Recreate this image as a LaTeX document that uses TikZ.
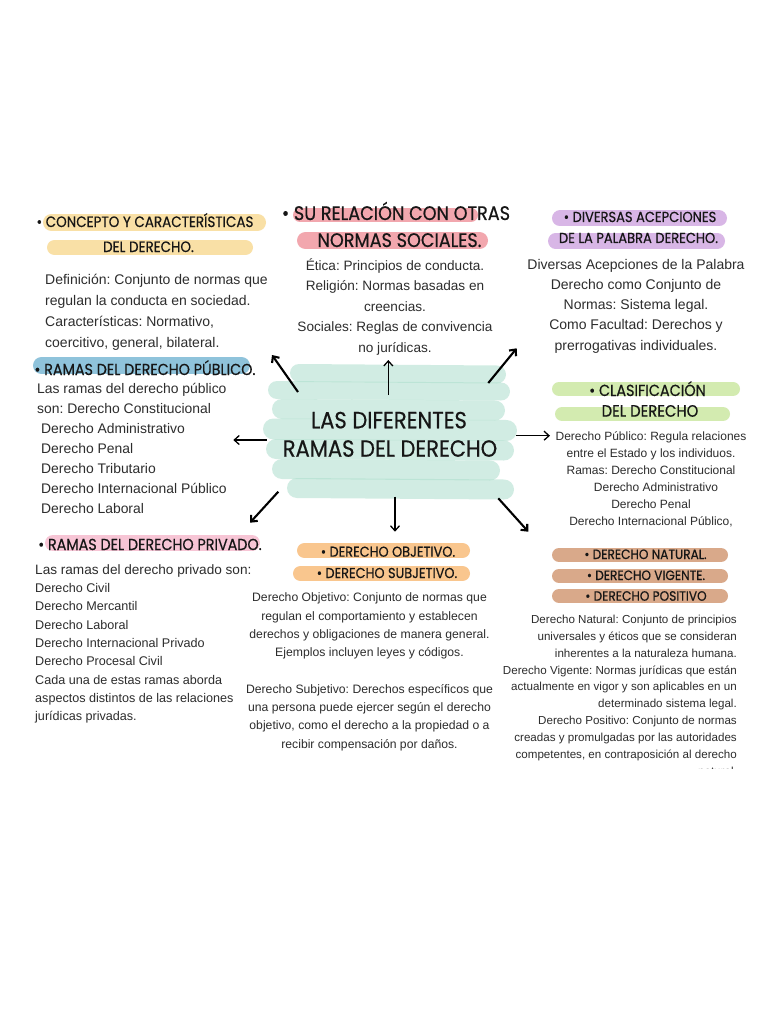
\documentclass[tikz,border=0pt]{standalone}
\usepackage{fontspec}
\setmainfont{Liberation Sans}
\newfontfamily\hfont[FakeStretch=0.9,FakeBold=0.5]{Poppins}
\usetikzlibrary{arrows.meta}
\definecolor{headc}{RGB}{22,22,22}
\definecolor{txt}{RGB}{45,45,45}
\definecolor{mint}{RGB}{172,222,204}
\definecolor{hlyellow}{RGB}{249,224,166}
\definecolor{hlpink}{RGB}{242,167,174}
\definecolor{hlpurple}{RGB}{216,182,230}
\definecolor{hlblue}{RGB}{143,195,219}
\definecolor{hlgreen}{RGB}{211,235,176}
\definecolor{hlrose}{RGB}{247,197,213}
\definecolor{hlorange}{RGB}{249,198,142}
\definecolor{hlbrown}{RGB}{217,169,138}
\newcommand{\hsz}[1]{\hfont\fontsize{#1}{#1}\selectfont}
\newcommand{\bsz}[2]{\fontsize{#1}{#2}\selectfont}
\newcommand{\hlstroke}[5]{\draw[#1, line width=#5pt, line cap=round] (#2+#5/2,#4) -- (#3-#5/2,#4);}
\frenchspacing
\tikzset{
  hd/.style={text=headc, inner sep=0pt, anchor=base},
  body/.style={text=txt, inner sep=0pt},
  arr/.style={draw=black, line width=1.3pt, -{Straight Barb[length=5pt,width=9pt]}},
  darr/.style={arr, line width=2.1pt},
}
\begin{document}
\begin{tikzpicture}[x=1pt,y=-1pt]
\useasboundingbox (0,0) rectangle (768,1024);
\fill[white] (0,0) rectangle (768,1024);

% central brush
\foreach \yy/\xa/\xb/\w in {373/290/506/18, 390/268/510/18, 409/272/505/20, 429/263/517/21, 449/266/514/20, 469/272/500/20, 488/287/514/20}
  \draw[mint, line width=\w pt, line cap=round, opacity=.55] (\xa+\w/2,\yy) -- (\xb-\w/2,\yy+1.5);

% highlight strokes
\hlstroke{hlyellow}{43}{266}{222.5}{17}
\hlstroke{hlyellow}{47}{253}{247.5}{15}
\hlstroke{hlpink}{293}{478}{215}{14}
\hlstroke{hlpink}{297}{488}{240.5}{17}
\hlstroke{hlpurple}{552}{727}{218.5}{16}
\hlstroke{hlpurple}{548}{725}{241}{15}
\hlstroke{hlblue}{33}{250}{365.5}{17}
\hlstroke{hlgreen}{552}{740}{389}{14}
\hlstroke{hlgreen}{555}{730}{414}{14}
\hlstroke{hlrose}{45}{260}{543}{16}
\hlstroke{hlorange}{297}{470}{550.5}{15}
\hlstroke{hlorange}{293}{470}{573.5}{15}
\hlstroke{hlbrown}{552}{728}{555}{14}
\hlstroke{hlbrown}{552}{728}{576}{14}
\hlstroke{hlbrown}{552}{728}{596}{14}

% headings
\node[hd, font=\hsz{15}] (htl1) at (145,227) {• CONCEPTO Y CARACTERÍSTICAS};
\node[hd, font=\hsz{15}] (htl2) at (148.5,252) {DEL DERECHO.};
\node[hd, font=\hsz{19.6}] (htm1) at (396,220) {• SU RELACIÓN CON OTRAS};
\node[hd, font=\hsz{19.6}] (htm2) at (399.5,247) {NORMAS SOCIALES.};
\node[hd, font=\hsz{14.5}] (htr1) at (640,222) {• DIVERSAS ACEPCIONES};
\node[hd, font=\hsz{14.5}] (htr2) at (638.5,243) {DE LA PALABRA DERECHO.};
\node[hd, font=\hsz{15.9}] (hpub) at (145,375) {• RAMAS DEL DERECHO PÚBLICO.};
\node[hd, font=\hsz{23.4}] (hc1) at (389,428.3) {LAS DIFERENTES};
\node[hd, font=\hsz{23.4}] (hc2) at (390,456.7) {RAMAS DEL DERECHO};
\node[hd, font=\hsz{16}] (hcl1) at (647.5,396) {• CLASIFICACIÓN};
\node[hd, font=\hsz{16.5}] (hcl2) at (650,416.7) {DEL DERECHO};
\node[hd, font=\hsz{15.9}] (hpriv) at (150,550) {• RAMAS DEL DERECHO PRIVADO.};
\node[hd, font=\hsz{14.3}] (hobj) at (388,556.7) {• DERECHO OBJETIVO.};
\node[hd, font=\hsz{14.3}] (hsub) at (387,578) {• DERECHO SUBJETIVO.};
\node[hd, font=\hsz{13.5}] (hnat) at (645.5,559) {• DERECHO NATURAL.};
\node[hd, font=\hsz{13.5}] (hvig) at (646,580) {• DERECHO VIGENTE.};
\node[hd, font=\hsz{13.5}] (hpos) at (646,600.7) {• DERECHO POSITIVO};

% bodies (base anchor = baseline of the last line)
\node[body, anchor=base west, align=left, font=\bsz{14}{21}] (btl) at (45,347.3)
  {Definición: Conjunto de normas que\\regulan la conducta en sociedad.\\Características: Normativo,\\coercitivo, general, bilateral.};
\node[body, anchor=base, align=center, font=\bsz{13.6}{20.5}] (btm) at (395,352)
  {Ética: Principios de conducta.\\Religión: Normas basadas en\\creencias.\\Sociales: Reglas de convivencia\\no jurídicas.};
\node[body, anchor=base, align=center, font=\bsz{14}{20.3}] (btr) at (636,350.2)
  {Diversas Acepciones de la Palabra\\Derecho como Conjunto de\\Normas: Sistema legal.\\Como Facultad: Derechos y\\prerrogativas individuales.};
\node[body, anchor=base west, align=left, font=\bsz{13.9}{20}] (bpub) at (37,513.3)
  {Las ramas del derecho público\\son: Derecho Constitucional\\\hspace*{4pt}Derecho Administrativo\\\hspace*{4pt}Derecho Penal\\\hspace*{4pt}Derecho Tributario\\\hspace*{4pt}Derecho Internacional Público\\\hspace*{4pt}Derecho Laboral};
\node[body, anchor=base, align=center, font=\bsz{12}{17}] (bcl) at (651,525)
  {Derecho Público: Regula relaciones\\entre el Estado y los individuos.\\Ramas: Derecho Constitucional\\\hspace*{10pt}Derecho Administrativo\\Derecho Penal\\Derecho Internacional Público,};
\node[body, anchor=base west, align=left, font=\bsz{12.6}{18.3}] (bpriv) at (35,720.7)
  {{\bsz{13.6}{18.3}Las ramas del derecho privado son:}\\Derecho Civil\\Derecho Mercantil\\Derecho Laboral\\Derecho Internacional Privado\\Derecho Procesal Civil\\Cada una de estas ramas aborda\\aspectos distintos de las relaciones\\jurídicas privadas.};
\node[body, anchor=base, align=center, font=\bsz{12.2}{18.3}] (bobj) at (369.5,748.1)
  {Derecho Objetivo: Conjunto de normas que\\regulan el comportamiento y establecen\\derechos y obligaciones de manera general.\\Ejemplos incluyen leyes y códigos.\\[18.3pt]Derecho Subjetivo: Derechos específicos que\\una persona puede ejercer según el derecho\\objetivo, como el derecho a la propiedad o a\\recibir compensación por daños.};
\begin{scope}
\clip (470,600) rectangle (768,768);
\node[body, anchor=base east, align=right, font=\bsz{11.6}{16.9}] (bnat) at (737,775.4)
  {Derecho Natural: Conjunto de principios\\universales y éticos que se consideran\\inherentes a la naturaleza humana.\\Derecho Vigente: Normas jurídicas que están\\actualmente en vigor y son aplicables en un\\determinado sistema legal.\\Derecho Positivo: Conjunto de normas\\creadas y promulgadas por las autoridades\\competentes, en contraposición al derecho\\natural.};
\end{scope}

% arrows
\coordinate (aul) at (298,392);  \coordinate (tul) at (272,355);
\coordinate (au)  at (388.3,395); \coordinate (tu) at (388.3,360);
\coordinate (aur) at (488.3,383); \coordinate (tur) at (516.7,348.3);
\coordinate (al)  at (266.7,440); \coordinate (tl) at (233.3,440);
\coordinate (ar)  at (516,435.7); \coordinate (tr) at (550,435.7);
\coordinate (adl) at (278.3,491.7); \coordinate (tdl) at (250,522.7);
\coordinate (ad)  at (395,496.7); \coordinate (td) at (395,531.7);
\coordinate (adr) at (498.3,498.3); \coordinate (tdr) at (528.3,531.7);
\draw[darr] (aul) -- (tul);
\draw[arr] (au) -- (tu);
\draw[darr] (aur) -- (tur);
\draw[arr] (al) -- (tl);
\draw[arr] (ar) -- (tr);
\draw[darr] (adl) -- (tdl);
\draw[arr] (ad) -- (td);
\draw[darr] (adr) -- (tdr);
\end{tikzpicture}
\end{document}
